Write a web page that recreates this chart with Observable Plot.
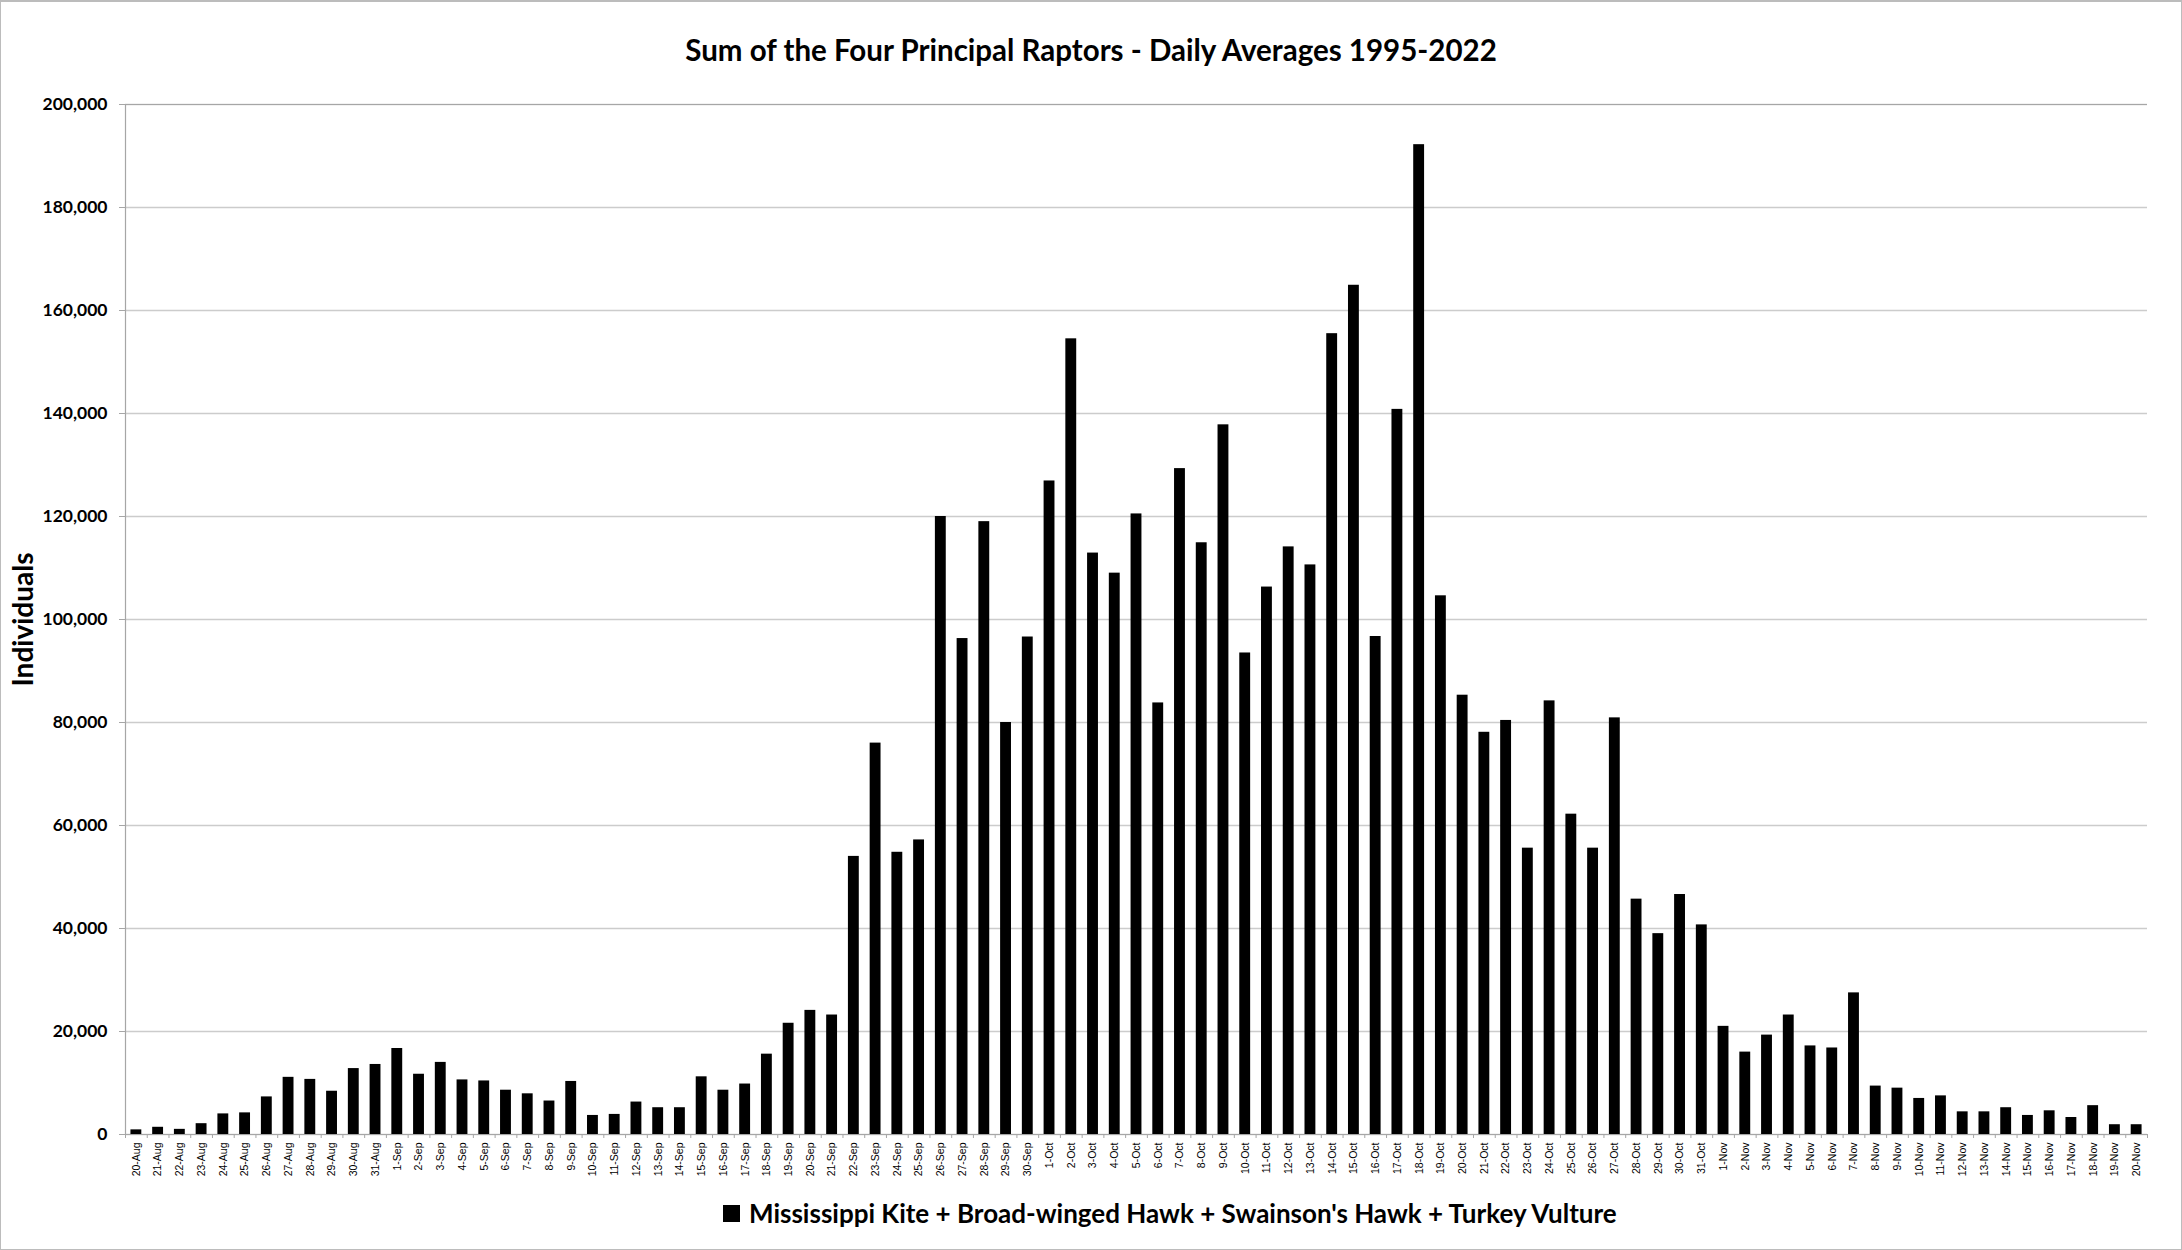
<!DOCTYPE html>
<html>
<head>
<meta charset="utf-8">
<script src="https://cdn.jsdelivr.net/npm/d3@7"></script>
<script src="https://cdn.jsdelivr.net/npm/@observablehq/plot@0.6"></script>
<style>
  html, body { margin: 0; padding: 0; background: #fff; }
  #wrap { position: relative; width: 2182px; height: 1250px; background: #fff; overflow: hidden; }
  #border { position: absolute; left: 0; top: 0; width: 2182px; height: 1250px; box-sizing: border-box; border: 1px solid #bcbcbc; border-top-width: 2px; pointer-events: none; }
  #title { position: absolute; left: 0; top: 0; width: 2182px; height: 88px; line-height: 100px; text-align: center;
           font-family: Lato, "Noto Sans", sans-serif; font-weight: bold; font-size: 29.5px; color: #000; }
  #chart { position: absolute; left: 0; top: 88px; }
  #legend { position: absolute; left: 723px; top: 1195px; height: 36px; display: flex; align-items: center;
            font-family: Lato, "Noto Sans", sans-serif; font-weight: bold; font-size: 26px; color: #000; }
  #legend .sw { width: 17px; height: 17px; background: #000; margin-right: 9px; }
</style>
</head>
<body>
<div id="wrap">
  <div id="title"></div>
  <div id="chart"></div>
  <div id="legend"><span class="sw"></span><span id="legendText"></span></div>
  <div id="border"></div>
</div>
<script>
const titleText = "Sum of the Four Principal Raptors - Daily Averages 1995-2022";
const yLabel = "Individuals";
const seriesName = "Mississippi Kite + Broad-winged Hawk + Swainson's Hawk + Turkey Vulture";

const augDays = ["20-Aug","21-Aug","22-Aug","23-Aug","24-Aug","25-Aug","26-Aug","27-Aug","28-Aug","29-Aug","30-Aug","31-Aug"];
const augValues = [900, 1400, 1000, 2100, 4000, 4200, 7300, 11100, 10700, 8400, 12800, 13600];

const sepDays = ["1-Sep","2-Sep","3-Sep","4-Sep","5-Sep","6-Sep","7-Sep","8-Sep","9-Sep","10-Sep",
                 "11-Sep","12-Sep","13-Sep","14-Sep","15-Sep","16-Sep","17-Sep","18-Sep","19-Sep","20-Sep",
                 "21-Sep","22-Sep","23-Sep","24-Sep","25-Sep","26-Sep","27-Sep","28-Sep","29-Sep","30-Sep"];
const sepValues = [16700, 11700, 14000, 10600, 10400, 8600, 7900, 6500, 10300, 3700,
                   3900, 6300, 5200, 5200, 11200, 8600, 9800, 15600, 21600, 24100,
                   23200, 54000, 76000, 54800, 57200, 120000, 96300, 119000, 80000, 96600];

const octDays = ["1-Oct","2-Oct","3-Oct","4-Oct","5-Oct","6-Oct","7-Oct","8-Oct","9-Oct","10-Oct",
                 "11-Oct","12-Oct","13-Oct","14-Oct","15-Oct","16-Oct","17-Oct","18-Oct","19-Oct","20-Oct",
                 "21-Oct","22-Oct","23-Oct","24-Oct","25-Oct","26-Oct","27-Oct","28-Oct","29-Oct","30-Oct","31-Oct"];
const octValues = [126900, 154500, 112900, 109000, 120500, 83800, 129300, 114900, 137800, 93500,
                   106300, 114100, 110600, 155500, 164900, 96700, 140800, 192200, 104600, 85300,
                   78100, 80400, 55600, 84200, 62200, 55600, 80900, 45700, 39000, 46600, 40700];

const novDays = ["1-Nov","2-Nov","3-Nov","4-Nov","5-Nov","6-Nov","7-Nov","8-Nov","9-Nov","10-Nov",
                 "11-Nov","12-Nov","13-Nov","14-Nov","15-Nov","16-Nov","17-Nov","18-Nov","19-Nov","20-Nov"];
const novValues = [21000, 16000, 19300, 23200, 17200, 16800, 27500, 9400, 9000, 7000,
                   7500, 4400, 4400, 5200, 3700, 4600, 3300, 5600, 1900, 1900];

const yTicks = [0, 20000, 40000, 60000, 80000, 100000, 120000, 140000, 160000, 180000, 200000];

const days = [...augDays, ...sepDays, ...octDays, ...novDays];
const values = [...augValues, ...sepValues, ...octValues, ...novValues];
const data = days.map((d, i) => ({day: d, value: values[i]}));

document.getElementById("title").textContent = titleText;
document.getElementById("legendText").textContent = seriesName;

const W = 2182, H = 1102, mL = 125, mR = 35, mT = 16, mB = 56;
const step = (W - mL - mR) / days.length;
const axisColor = "#a6a6a6";
const gridColor = "#cccccc";

const chart = Plot.plot({
  width: W,
  height: H,
  marginLeft: mL,
  marginRight: mR,
  marginTop: mT,
  marginBottom: mB,
  style: {background: "#fff", color: "#000", overflow: "visible"},
  x: {type: "band", domain: days, paddingInner: 0.5, paddingOuter: 0.25, label: null},
  y: {domain: [0, 200000], label: null},
  marks: [
    Plot.gridY(yTicks, {stroke: gridColor, strokeOpacity: 1, strokeWidth: 1.4}),
    Plot.ruleY([200000], {stroke: axisColor, strokeWidth: 1.2}),
    Plot.barY(data, {x: "day", y: "value", fill: "#000"}),
    Plot.ruleY([0], {stroke: axisColor, strokeWidth: 1.2}),
    Plot.frame({anchor: "left", stroke: axisColor, strokeWidth: 1.2}),
    Plot.axisY(yTicks, {
      tickSize: 6, tickPadding: 12, stroke: axisColor,
      tickFormat: d3.format(","),
      fontSize: 17.5, fontWeight: "bold", fontFamily: "Lato, 'Noto Sans', sans-serif",
      label: null
    }),
    Plot.axisY({
      ticks: [], tickSize: 0,
      label: yLabel, labelAnchor: "center", labelArrow: "none", labelOffset: 112,
      fontSize: 28, fontWeight: "bold", fontFamily: "Lato, 'Noto Sans', sans-serif"
    }),
    Plot.axisX({
      tickSize: 0, tickRotate: -90, tickPadding: 8,
      fontSize: 10.5, fontFamily: "'Liberation Sans', Arial, sans-serif",
      label: null
    }),
    Plot.axisX({
      tickSize: 4, text: null, stroke: axisColor, dx: -step / 2, label: null
    }),
    Plot.axisX([days[days.length - 1]], {
      tickSize: 4, text: null, stroke: axisColor, dx: step / 2, label: null
    })
  ]
});
document.getElementById("chart").appendChild(chart);
</script>
</body>
</html>
